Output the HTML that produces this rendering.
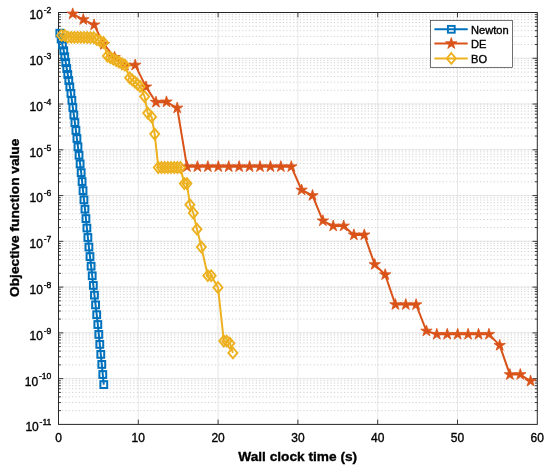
<!DOCTYPE html>
<html><head><meta charset="utf-8"><title>Objective function value vs wall clock time</title>
<style>html,body{margin:0;padding:0;background:#fff;}svg{display:block;}</style></head>
<body>
<svg width="550" height="471" viewBox="0 0 550 471">
<rect width="550" height="471" fill="#fff"/>
<g stroke="#bdbdbd" stroke-width="0.7" stroke-dasharray="1.2 2.2"><line x1="58.5" y1="410.62" x2="537.3" y2="410.62"/><line x1="58.5" y1="402.56" x2="537.3" y2="402.56"/><line x1="58.5" y1="396.85" x2="537.3" y2="396.85"/><line x1="58.5" y1="392.41" x2="537.3" y2="392.41"/><line x1="58.5" y1="388.79" x2="537.3" y2="388.79"/><line x1="58.5" y1="385.72" x2="537.3" y2="385.72"/><line x1="58.5" y1="383.07" x2="537.3" y2="383.07"/><line x1="58.5" y1="380.73" x2="537.3" y2="380.73"/><line x1="58.5" y1="378.63" x2="537.3" y2="378.63"/><line x1="58.5" y1="364.86" x2="537.3" y2="364.86"/><line x1="58.5" y1="356.80" x2="537.3" y2="356.80"/><line x1="58.5" y1="351.08" x2="537.3" y2="351.08"/><line x1="58.5" y1="346.64" x2="537.3" y2="346.64"/><line x1="58.5" y1="343.02" x2="537.3" y2="343.02"/><line x1="58.5" y1="339.96" x2="537.3" y2="339.96"/><line x1="58.5" y1="337.30" x2="537.3" y2="337.30"/><line x1="58.5" y1="334.96" x2="537.3" y2="334.96"/><line x1="58.5" y1="332.87" x2="537.3" y2="332.87"/><line x1="58.5" y1="319.09" x2="537.3" y2="319.09"/><line x1="58.5" y1="311.03" x2="537.3" y2="311.03"/><line x1="58.5" y1="305.31" x2="537.3" y2="305.31"/><line x1="58.5" y1="300.88" x2="537.3" y2="300.88"/><line x1="58.5" y1="297.25" x2="537.3" y2="297.25"/><line x1="58.5" y1="294.19" x2="537.3" y2="294.19"/><line x1="58.5" y1="291.54" x2="537.3" y2="291.54"/><line x1="58.5" y1="289.19" x2="537.3" y2="289.19"/><line x1="58.5" y1="287.10" x2="537.3" y2="287.10"/><line x1="58.5" y1="273.32" x2="537.3" y2="273.32"/><line x1="58.5" y1="265.26" x2="537.3" y2="265.26"/><line x1="58.5" y1="259.55" x2="537.3" y2="259.55"/><line x1="58.5" y1="255.11" x2="537.3" y2="255.11"/><line x1="58.5" y1="251.49" x2="537.3" y2="251.49"/><line x1="58.5" y1="248.42" x2="537.3" y2="248.42"/><line x1="58.5" y1="245.77" x2="537.3" y2="245.77"/><line x1="58.5" y1="243.43" x2="537.3" y2="243.43"/><line x1="58.5" y1="241.33" x2="537.3" y2="241.33"/><line x1="58.5" y1="227.56" x2="537.3" y2="227.56"/><line x1="58.5" y1="219.50" x2="537.3" y2="219.50"/><line x1="58.5" y1="213.78" x2="537.3" y2="213.78"/><line x1="58.5" y1="209.34" x2="537.3" y2="209.34"/><line x1="58.5" y1="205.72" x2="537.3" y2="205.72"/><line x1="58.5" y1="202.66" x2="537.3" y2="202.66"/><line x1="58.5" y1="200.00" x2="537.3" y2="200.00"/><line x1="58.5" y1="197.66" x2="537.3" y2="197.66"/><line x1="58.5" y1="195.57" x2="537.3" y2="195.57"/><line x1="58.5" y1="181.79" x2="537.3" y2="181.79"/><line x1="58.5" y1="173.73" x2="537.3" y2="173.73"/><line x1="58.5" y1="168.01" x2="537.3" y2="168.01"/><line x1="58.5" y1="163.58" x2="537.3" y2="163.58"/><line x1="58.5" y1="159.95" x2="537.3" y2="159.95"/><line x1="58.5" y1="156.89" x2="537.3" y2="156.89"/><line x1="58.5" y1="154.24" x2="537.3" y2="154.24"/><line x1="58.5" y1="151.89" x2="537.3" y2="151.89"/><line x1="58.5" y1="149.80" x2="537.3" y2="149.80"/><line x1="58.5" y1="136.02" x2="537.3" y2="136.02"/><line x1="58.5" y1="127.96" x2="537.3" y2="127.96"/><line x1="58.5" y1="122.25" x2="537.3" y2="122.25"/><line x1="58.5" y1="117.81" x2="537.3" y2="117.81"/><line x1="58.5" y1="114.19" x2="537.3" y2="114.19"/><line x1="58.5" y1="111.12" x2="537.3" y2="111.12"/><line x1="58.5" y1="108.47" x2="537.3" y2="108.47"/><line x1="58.5" y1="106.13" x2="537.3" y2="106.13"/><line x1="58.5" y1="104.03" x2="537.3" y2="104.03"/><line x1="58.5" y1="90.26" x2="537.3" y2="90.26"/><line x1="58.5" y1="82.20" x2="537.3" y2="82.20"/><line x1="58.5" y1="76.48" x2="537.3" y2="76.48"/><line x1="58.5" y1="72.04" x2="537.3" y2="72.04"/><line x1="58.5" y1="68.42" x2="537.3" y2="68.42"/><line x1="58.5" y1="65.36" x2="537.3" y2="65.36"/><line x1="58.5" y1="62.70" x2="537.3" y2="62.70"/><line x1="58.5" y1="60.36" x2="537.3" y2="60.36"/><line x1="58.5" y1="58.27" x2="537.3" y2="58.27"/><line x1="58.5" y1="44.49" x2="537.3" y2="44.49"/><line x1="58.5" y1="36.43" x2="537.3" y2="36.43"/><line x1="58.5" y1="30.71" x2="537.3" y2="30.71"/><line x1="58.5" y1="26.28" x2="537.3" y2="26.28"/><line x1="58.5" y1="22.65" x2="537.3" y2="22.65"/><line x1="58.5" y1="19.59" x2="537.3" y2="19.59"/><line x1="58.5" y1="16.94" x2="537.3" y2="16.94"/><line x1="58.5" y1="14.59" x2="537.3" y2="14.59"/></g>
<g stroke="#dedede" stroke-width="0.7"><line x1="58.5" y1="378.63" x2="537.3" y2="378.63"/><line x1="58.5" y1="332.87" x2="537.3" y2="332.87"/><line x1="58.5" y1="287.10" x2="537.3" y2="287.10"/><line x1="58.5" y1="241.33" x2="537.3" y2="241.33"/><line x1="58.5" y1="195.57" x2="537.3" y2="195.57"/><line x1="58.5" y1="149.80" x2="537.3" y2="149.80"/><line x1="58.5" y1="104.03" x2="537.3" y2="104.03"/><line x1="58.5" y1="58.27" x2="537.3" y2="58.27"/><line x1="138.30" y1="12.5" x2="138.30" y2="424.4"/><line x1="218.10" y1="12.5" x2="218.10" y2="424.4"/><line x1="297.90" y1="12.5" x2="297.90" y2="424.4"/><line x1="377.70" y1="12.5" x2="377.70" y2="424.4"/><line x1="457.50" y1="12.5" x2="457.50" y2="424.4"/></g>
<rect x="58.5" y="12.5" width="478.80" height="411.90" fill="none" stroke="#262626" stroke-width="1"/>
<g stroke="#262626" stroke-width="0.9"><line x1="138.30" y1="424.4" x2="138.30" y2="419.59999999999997"/><line x1="138.30" y1="12.5" x2="138.30" y2="17.3"/><line x1="218.10" y1="424.4" x2="218.10" y2="419.59999999999997"/><line x1="218.10" y1="12.5" x2="218.10" y2="17.3"/><line x1="297.90" y1="424.4" x2="297.90" y2="419.59999999999997"/><line x1="297.90" y1="12.5" x2="297.90" y2="17.3"/><line x1="377.70" y1="424.4" x2="377.70" y2="419.59999999999997"/><line x1="377.70" y1="12.5" x2="377.70" y2="17.3"/><line x1="457.50" y1="424.4" x2="457.50" y2="419.59999999999997"/><line x1="457.50" y1="12.5" x2="457.50" y2="17.3"/><line x1="58.5" y1="378.63" x2="63.3" y2="378.63"/><line x1="537.3" y1="378.63" x2="532.5" y2="378.63"/><line x1="58.5" y1="332.87" x2="63.3" y2="332.87"/><line x1="537.3" y1="332.87" x2="532.5" y2="332.87"/><line x1="58.5" y1="287.10" x2="63.3" y2="287.10"/><line x1="537.3" y1="287.10" x2="532.5" y2="287.10"/><line x1="58.5" y1="241.33" x2="63.3" y2="241.33"/><line x1="537.3" y1="241.33" x2="532.5" y2="241.33"/><line x1="58.5" y1="195.57" x2="63.3" y2="195.57"/><line x1="537.3" y1="195.57" x2="532.5" y2="195.57"/><line x1="58.5" y1="149.80" x2="63.3" y2="149.80"/><line x1="537.3" y1="149.80" x2="532.5" y2="149.80"/><line x1="58.5" y1="104.03" x2="63.3" y2="104.03"/><line x1="537.3" y1="104.03" x2="532.5" y2="104.03"/><line x1="58.5" y1="58.27" x2="63.3" y2="58.27"/><line x1="537.3" y1="58.27" x2="532.5" y2="58.27"/><line x1="58.5" y1="410.62" x2="60.9" y2="410.62"/><line x1="537.3" y1="410.62" x2="534.9" y2="410.62"/><line x1="58.5" y1="402.56" x2="60.9" y2="402.56"/><line x1="537.3" y1="402.56" x2="534.9" y2="402.56"/><line x1="58.5" y1="396.85" x2="60.9" y2="396.85"/><line x1="537.3" y1="396.85" x2="534.9" y2="396.85"/><line x1="58.5" y1="392.41" x2="60.9" y2="392.41"/><line x1="537.3" y1="392.41" x2="534.9" y2="392.41"/><line x1="58.5" y1="388.79" x2="60.9" y2="388.79"/><line x1="537.3" y1="388.79" x2="534.9" y2="388.79"/><line x1="58.5" y1="385.72" x2="60.9" y2="385.72"/><line x1="537.3" y1="385.72" x2="534.9" y2="385.72"/><line x1="58.5" y1="383.07" x2="60.9" y2="383.07"/><line x1="537.3" y1="383.07" x2="534.9" y2="383.07"/><line x1="58.5" y1="380.73" x2="60.9" y2="380.73"/><line x1="537.3" y1="380.73" x2="534.9" y2="380.73"/><line x1="58.5" y1="364.86" x2="60.9" y2="364.86"/><line x1="537.3" y1="364.86" x2="534.9" y2="364.86"/><line x1="58.5" y1="356.80" x2="60.9" y2="356.80"/><line x1="537.3" y1="356.80" x2="534.9" y2="356.80"/><line x1="58.5" y1="351.08" x2="60.9" y2="351.08"/><line x1="537.3" y1="351.08" x2="534.9" y2="351.08"/><line x1="58.5" y1="346.64" x2="60.9" y2="346.64"/><line x1="537.3" y1="346.64" x2="534.9" y2="346.64"/><line x1="58.5" y1="343.02" x2="60.9" y2="343.02"/><line x1="537.3" y1="343.02" x2="534.9" y2="343.02"/><line x1="58.5" y1="339.96" x2="60.9" y2="339.96"/><line x1="537.3" y1="339.96" x2="534.9" y2="339.96"/><line x1="58.5" y1="337.30" x2="60.9" y2="337.30"/><line x1="537.3" y1="337.30" x2="534.9" y2="337.30"/><line x1="58.5" y1="334.96" x2="60.9" y2="334.96"/><line x1="537.3" y1="334.96" x2="534.9" y2="334.96"/><line x1="58.5" y1="319.09" x2="60.9" y2="319.09"/><line x1="537.3" y1="319.09" x2="534.9" y2="319.09"/><line x1="58.5" y1="311.03" x2="60.9" y2="311.03"/><line x1="537.3" y1="311.03" x2="534.9" y2="311.03"/><line x1="58.5" y1="305.31" x2="60.9" y2="305.31"/><line x1="537.3" y1="305.31" x2="534.9" y2="305.31"/><line x1="58.5" y1="300.88" x2="60.9" y2="300.88"/><line x1="537.3" y1="300.88" x2="534.9" y2="300.88"/><line x1="58.5" y1="297.25" x2="60.9" y2="297.25"/><line x1="537.3" y1="297.25" x2="534.9" y2="297.25"/><line x1="58.5" y1="294.19" x2="60.9" y2="294.19"/><line x1="537.3" y1="294.19" x2="534.9" y2="294.19"/><line x1="58.5" y1="291.54" x2="60.9" y2="291.54"/><line x1="537.3" y1="291.54" x2="534.9" y2="291.54"/><line x1="58.5" y1="289.19" x2="60.9" y2="289.19"/><line x1="537.3" y1="289.19" x2="534.9" y2="289.19"/><line x1="58.5" y1="273.32" x2="60.9" y2="273.32"/><line x1="537.3" y1="273.32" x2="534.9" y2="273.32"/><line x1="58.5" y1="265.26" x2="60.9" y2="265.26"/><line x1="537.3" y1="265.26" x2="534.9" y2="265.26"/><line x1="58.5" y1="259.55" x2="60.9" y2="259.55"/><line x1="537.3" y1="259.55" x2="534.9" y2="259.55"/><line x1="58.5" y1="255.11" x2="60.9" y2="255.11"/><line x1="537.3" y1="255.11" x2="534.9" y2="255.11"/><line x1="58.5" y1="251.49" x2="60.9" y2="251.49"/><line x1="537.3" y1="251.49" x2="534.9" y2="251.49"/><line x1="58.5" y1="248.42" x2="60.9" y2="248.42"/><line x1="537.3" y1="248.42" x2="534.9" y2="248.42"/><line x1="58.5" y1="245.77" x2="60.9" y2="245.77"/><line x1="537.3" y1="245.77" x2="534.9" y2="245.77"/><line x1="58.5" y1="243.43" x2="60.9" y2="243.43"/><line x1="537.3" y1="243.43" x2="534.9" y2="243.43"/><line x1="58.5" y1="227.56" x2="60.9" y2="227.56"/><line x1="537.3" y1="227.56" x2="534.9" y2="227.56"/><line x1="58.5" y1="219.50" x2="60.9" y2="219.50"/><line x1="537.3" y1="219.50" x2="534.9" y2="219.50"/><line x1="58.5" y1="213.78" x2="60.9" y2="213.78"/><line x1="537.3" y1="213.78" x2="534.9" y2="213.78"/><line x1="58.5" y1="209.34" x2="60.9" y2="209.34"/><line x1="537.3" y1="209.34" x2="534.9" y2="209.34"/><line x1="58.5" y1="205.72" x2="60.9" y2="205.72"/><line x1="537.3" y1="205.72" x2="534.9" y2="205.72"/><line x1="58.5" y1="202.66" x2="60.9" y2="202.66"/><line x1="537.3" y1="202.66" x2="534.9" y2="202.66"/><line x1="58.5" y1="200.00" x2="60.9" y2="200.00"/><line x1="537.3" y1="200.00" x2="534.9" y2="200.00"/><line x1="58.5" y1="197.66" x2="60.9" y2="197.66"/><line x1="537.3" y1="197.66" x2="534.9" y2="197.66"/><line x1="58.5" y1="181.79" x2="60.9" y2="181.79"/><line x1="537.3" y1="181.79" x2="534.9" y2="181.79"/><line x1="58.5" y1="173.73" x2="60.9" y2="173.73"/><line x1="537.3" y1="173.73" x2="534.9" y2="173.73"/><line x1="58.5" y1="168.01" x2="60.9" y2="168.01"/><line x1="537.3" y1="168.01" x2="534.9" y2="168.01"/><line x1="58.5" y1="163.58" x2="60.9" y2="163.58"/><line x1="537.3" y1="163.58" x2="534.9" y2="163.58"/><line x1="58.5" y1="159.95" x2="60.9" y2="159.95"/><line x1="537.3" y1="159.95" x2="534.9" y2="159.95"/><line x1="58.5" y1="156.89" x2="60.9" y2="156.89"/><line x1="537.3" y1="156.89" x2="534.9" y2="156.89"/><line x1="58.5" y1="154.24" x2="60.9" y2="154.24"/><line x1="537.3" y1="154.24" x2="534.9" y2="154.24"/><line x1="58.5" y1="151.89" x2="60.9" y2="151.89"/><line x1="537.3" y1="151.89" x2="534.9" y2="151.89"/><line x1="58.5" y1="136.02" x2="60.9" y2="136.02"/><line x1="537.3" y1="136.02" x2="534.9" y2="136.02"/><line x1="58.5" y1="127.96" x2="60.9" y2="127.96"/><line x1="537.3" y1="127.96" x2="534.9" y2="127.96"/><line x1="58.5" y1="122.25" x2="60.9" y2="122.25"/><line x1="537.3" y1="122.25" x2="534.9" y2="122.25"/><line x1="58.5" y1="117.81" x2="60.9" y2="117.81"/><line x1="537.3" y1="117.81" x2="534.9" y2="117.81"/><line x1="58.5" y1="114.19" x2="60.9" y2="114.19"/><line x1="537.3" y1="114.19" x2="534.9" y2="114.19"/><line x1="58.5" y1="111.12" x2="60.9" y2="111.12"/><line x1="537.3" y1="111.12" x2="534.9" y2="111.12"/><line x1="58.5" y1="108.47" x2="60.9" y2="108.47"/><line x1="537.3" y1="108.47" x2="534.9" y2="108.47"/><line x1="58.5" y1="106.13" x2="60.9" y2="106.13"/><line x1="537.3" y1="106.13" x2="534.9" y2="106.13"/><line x1="58.5" y1="90.26" x2="60.9" y2="90.26"/><line x1="537.3" y1="90.26" x2="534.9" y2="90.26"/><line x1="58.5" y1="82.20" x2="60.9" y2="82.20"/><line x1="537.3" y1="82.20" x2="534.9" y2="82.20"/><line x1="58.5" y1="76.48" x2="60.9" y2="76.48"/><line x1="537.3" y1="76.48" x2="534.9" y2="76.48"/><line x1="58.5" y1="72.04" x2="60.9" y2="72.04"/><line x1="537.3" y1="72.04" x2="534.9" y2="72.04"/><line x1="58.5" y1="68.42" x2="60.9" y2="68.42"/><line x1="537.3" y1="68.42" x2="534.9" y2="68.42"/><line x1="58.5" y1="65.36" x2="60.9" y2="65.36"/><line x1="537.3" y1="65.36" x2="534.9" y2="65.36"/><line x1="58.5" y1="62.70" x2="60.9" y2="62.70"/><line x1="537.3" y1="62.70" x2="534.9" y2="62.70"/><line x1="58.5" y1="60.36" x2="60.9" y2="60.36"/><line x1="537.3" y1="60.36" x2="534.9" y2="60.36"/><line x1="58.5" y1="44.49" x2="60.9" y2="44.49"/><line x1="537.3" y1="44.49" x2="534.9" y2="44.49"/><line x1="58.5" y1="36.43" x2="60.9" y2="36.43"/><line x1="537.3" y1="36.43" x2="534.9" y2="36.43"/><line x1="58.5" y1="30.71" x2="60.9" y2="30.71"/><line x1="537.3" y1="30.71" x2="534.9" y2="30.71"/><line x1="58.5" y1="26.28" x2="60.9" y2="26.28"/><line x1="537.3" y1="26.28" x2="534.9" y2="26.28"/><line x1="58.5" y1="22.65" x2="60.9" y2="22.65"/><line x1="537.3" y1="22.65" x2="534.9" y2="22.65"/><line x1="58.5" y1="19.59" x2="60.9" y2="19.59"/><line x1="537.3" y1="19.59" x2="534.9" y2="19.59"/><line x1="58.5" y1="16.94" x2="60.9" y2="16.94"/><line x1="537.3" y1="16.94" x2="534.9" y2="16.94"/><line x1="58.5" y1="14.59" x2="60.9" y2="14.59"/><line x1="537.3" y1="14.59" x2="534.9" y2="14.59"/></g>
<polyline points="59.80,33.20 61.12,39.05 62.44,44.92 63.75,50.80 64.75,56.69 65.76,62.61 66.76,68.53 67.77,74.47 68.79,80.48 69.83,86.79 70.91,93.41 71.88,100.37 72.86,107.57 73.86,114.98 74.89,122.60 75.91,130.44 76.92,138.51 77.97,146.81 79.04,155.29 80.12,163.90 81.18,172.65 82.10,181.56 83.03,190.61 83.98,199.81 84.95,209.16 85.92,218.57 86.90,228.02 87.88,237.50 88.89,247.02 89.99,256.57 91.10,266.16 92.21,275.78 93.33,285.44 94.45,295.14 95.57,304.89 96.71,314.69 97.82,324.54 98.81,334.44 99.80,344.38 100.79,354.38 101.79,364.42 102.80,374.51 103.80,384.60" fill="none" stroke="#0072BD" stroke-width="2.0" stroke-linejoin="round"/>
<g fill="none" stroke="#0072BD" stroke-width="2.0"><rect x="56.40" y="29.80" width="6.8" height="6.8"/><rect x="57.72" y="35.65" width="6.8" height="6.8"/><rect x="59.04" y="41.52" width="6.8" height="6.8"/><rect x="60.35" y="47.40" width="6.8" height="6.8"/><rect x="61.35" y="53.29" width="6.8" height="6.8"/><rect x="62.36" y="59.21" width="6.8" height="6.8"/><rect x="63.36" y="65.13" width="6.8" height="6.8"/><rect x="64.37" y="71.07" width="6.8" height="6.8"/><rect x="65.39" y="77.08" width="6.8" height="6.8"/><rect x="66.43" y="83.39" width="6.8" height="6.8"/><rect x="67.51" y="90.01" width="6.8" height="6.8"/><rect x="68.48" y="96.97" width="6.8" height="6.8"/><rect x="69.46" y="104.17" width="6.8" height="6.8"/><rect x="70.46" y="111.58" width="6.8" height="6.8"/><rect x="71.49" y="119.20" width="6.8" height="6.8"/><rect x="72.51" y="127.04" width="6.8" height="6.8"/><rect x="73.52" y="135.11" width="6.8" height="6.8"/><rect x="74.57" y="143.41" width="6.8" height="6.8"/><rect x="75.64" y="151.89" width="6.8" height="6.8"/><rect x="76.72" y="160.50" width="6.8" height="6.8"/><rect x="77.78" y="169.25" width="6.8" height="6.8"/><rect x="78.70" y="178.16" width="6.8" height="6.8"/><rect x="79.63" y="187.21" width="6.8" height="6.8"/><rect x="80.58" y="196.41" width="6.8" height="6.8"/><rect x="81.55" y="205.76" width="6.8" height="6.8"/><rect x="82.52" y="215.17" width="6.8" height="6.8"/><rect x="83.50" y="224.62" width="6.8" height="6.8"/><rect x="84.48" y="234.10" width="6.8" height="6.8"/><rect x="85.49" y="243.62" width="6.8" height="6.8"/><rect x="86.59" y="253.17" width="6.8" height="6.8"/><rect x="87.70" y="262.76" width="6.8" height="6.8"/><rect x="88.81" y="272.38" width="6.8" height="6.8"/><rect x="89.93" y="282.04" width="6.8" height="6.8"/><rect x="91.05" y="291.74" width="6.8" height="6.8"/><rect x="92.17" y="301.49" width="6.8" height="6.8"/><rect x="93.31" y="311.29" width="6.8" height="6.8"/><rect x="94.42" y="321.14" width="6.8" height="6.8"/><rect x="95.41" y="331.04" width="6.8" height="6.8"/><rect x="96.40" y="340.98" width="6.8" height="6.8"/><rect x="97.39" y="350.98" width="6.8" height="6.8"/><rect x="98.39" y="361.02" width="6.8" height="6.8"/><rect x="99.40" y="371.11" width="6.8" height="6.8"/><rect x="100.40" y="381.20" width="6.8" height="6.8"/></g>
<polyline points="72.70,13.90 83.30,19.60 94.10,24.90 103.90,44.40 114.60,57.40 124.90,65.20 135.20,65.10 146.00,86.90 156.00,102.20 166.50,101.90 177.20,108.00 187.00,166.70 197.43,166.70 207.86,166.70 218.29,166.70 228.72,166.70 239.15,166.70 249.58,166.70 260.01,166.70 270.44,166.70 280.87,166.70 291.30,166.70 301.60,190.00 312.50,195.50 322.90,220.80 333.20,226.00 343.70,226.00 353.90,234.90 364.30,234.90 374.70,264.50 385.20,274.70 395.40,304.60 405.80,304.60 416.10,304.70 426.40,331.00 436.80,334.30 447.23,334.30 457.66,334.30 468.09,334.30 478.52,334.30 488.95,334.30 499.70,345.40 509.90,374.60 520.30,374.50 530.60,381.10" fill="none" stroke="#D95319" stroke-width="2.0" stroke-linejoin="round"/>
<g fill="#D95319" stroke="#D95319" stroke-width="0.8" stroke-linejoin="miter"><polygon points="72.70,7.90 74.05,12.05 78.41,12.05 74.88,14.61 76.23,18.75 72.70,16.19 69.17,18.75 70.52,14.61 66.99,12.05 71.35,12.05"/><polygon points="83.30,13.60 84.65,17.75 89.01,17.75 85.48,20.31 86.83,24.45 83.30,21.89 79.77,24.45 81.12,20.31 77.59,17.75 81.95,17.75"/><polygon points="94.10,18.90 95.45,23.05 99.81,23.05 96.28,25.61 97.63,29.75 94.10,27.19 90.57,29.75 91.92,25.61 88.39,23.05 92.75,23.05"/><polygon points="103.90,38.40 105.25,42.55 109.61,42.55 106.08,45.11 107.43,49.25 103.90,46.69 100.37,49.25 101.72,45.11 98.19,42.55 102.55,42.55"/><polygon points="114.60,51.40 115.95,55.55 120.31,55.55 116.78,58.11 118.13,62.25 114.60,59.69 111.07,62.25 112.42,58.11 108.89,55.55 113.25,55.55"/><polygon points="124.90,59.20 126.25,63.35 130.61,63.35 127.08,65.91 128.43,70.05 124.90,67.49 121.37,70.05 122.72,65.91 119.19,63.35 123.55,63.35"/><polygon points="135.20,59.10 136.55,63.25 140.91,63.25 137.38,65.81 138.73,69.95 135.20,67.39 131.67,69.95 133.02,65.81 129.49,63.25 133.85,63.25"/><polygon points="146.00,80.90 147.35,85.05 151.71,85.05 148.18,87.61 149.53,91.75 146.00,89.19 142.47,91.75 143.82,87.61 140.29,85.05 144.65,85.05"/><polygon points="156.00,96.20 157.35,100.35 161.71,100.35 158.18,102.91 159.53,107.05 156.00,104.49 152.47,107.05 153.82,102.91 150.29,100.35 154.65,100.35"/><polygon points="166.50,95.90 167.85,100.05 172.21,100.05 168.68,102.61 170.03,106.75 166.50,104.19 162.97,106.75 164.32,102.61 160.79,100.05 165.15,100.05"/><polygon points="177.20,102.00 178.55,106.15 182.91,106.15 179.38,108.71 180.73,112.85 177.20,110.29 173.67,112.85 175.02,108.71 171.49,106.15 175.85,106.15"/><polygon points="187.00,160.70 188.35,164.85 192.71,164.85 189.18,167.41 190.53,171.55 187.00,168.99 183.47,171.55 184.82,167.41 181.29,164.85 185.65,164.85"/><polygon points="197.43,160.70 198.78,164.85 203.14,164.85 199.61,167.41 200.96,171.55 197.43,168.99 193.90,171.55 195.25,167.41 191.72,164.85 196.08,164.85"/><polygon points="207.86,160.70 209.21,164.85 213.57,164.85 210.04,167.41 211.39,171.55 207.86,168.99 204.33,171.55 205.68,167.41 202.15,164.85 206.51,164.85"/><polygon points="218.29,160.70 219.64,164.85 224.00,164.85 220.47,167.41 221.82,171.55 218.29,168.99 214.76,171.55 216.11,167.41 212.58,164.85 216.94,164.85"/><polygon points="228.72,160.70 230.07,164.85 234.43,164.85 230.90,167.41 232.25,171.55 228.72,168.99 225.19,171.55 226.54,167.41 223.01,164.85 227.37,164.85"/><polygon points="239.15,160.70 240.50,164.85 244.86,164.85 241.33,167.41 242.68,171.55 239.15,168.99 235.62,171.55 236.97,167.41 233.44,164.85 237.80,164.85"/><polygon points="249.58,160.70 250.93,164.85 255.29,164.85 251.76,167.41 253.11,171.55 249.58,168.99 246.05,171.55 247.40,167.41 243.87,164.85 248.23,164.85"/><polygon points="260.01,160.70 261.36,164.85 265.72,164.85 262.19,167.41 263.54,171.55 260.01,168.99 256.48,171.55 257.83,167.41 254.30,164.85 258.66,164.85"/><polygon points="270.44,160.70 271.79,164.85 276.15,164.85 272.62,167.41 273.97,171.55 270.44,168.99 266.91,171.55 268.26,167.41 264.73,164.85 269.09,164.85"/><polygon points="280.87,160.70 282.22,164.85 286.58,164.85 283.05,167.41 284.40,171.55 280.87,168.99 277.34,171.55 278.69,167.41 275.16,164.85 279.52,164.85"/><polygon points="291.30,160.70 292.65,164.85 297.01,164.85 293.48,167.41 294.83,171.55 291.30,168.99 287.77,171.55 289.12,167.41 285.59,164.85 289.95,164.85"/><polygon points="301.60,184.00 302.95,188.15 307.31,188.15 303.78,190.71 305.13,194.85 301.60,192.29 298.07,194.85 299.42,190.71 295.89,188.15 300.25,188.15"/><polygon points="312.50,189.50 313.85,193.65 318.21,193.65 314.68,196.21 316.03,200.35 312.50,197.79 308.97,200.35 310.32,196.21 306.79,193.65 311.15,193.65"/><polygon points="322.90,214.80 324.25,218.95 328.61,218.95 325.08,221.51 326.43,225.65 322.90,223.09 319.37,225.65 320.72,221.51 317.19,218.95 321.55,218.95"/><polygon points="333.20,220.00 334.55,224.15 338.91,224.15 335.38,226.71 336.73,230.85 333.20,228.29 329.67,230.85 331.02,226.71 327.49,224.15 331.85,224.15"/><polygon points="343.70,220.00 345.05,224.15 349.41,224.15 345.88,226.71 347.23,230.85 343.70,228.29 340.17,230.85 341.52,226.71 337.99,224.15 342.35,224.15"/><polygon points="353.90,228.90 355.25,233.05 359.61,233.05 356.08,235.61 357.43,239.75 353.90,237.19 350.37,239.75 351.72,235.61 348.19,233.05 352.55,233.05"/><polygon points="364.30,228.90 365.65,233.05 370.01,233.05 366.48,235.61 367.83,239.75 364.30,237.19 360.77,239.75 362.12,235.61 358.59,233.05 362.95,233.05"/><polygon points="374.70,258.50 376.05,262.65 380.41,262.65 376.88,265.21 378.23,269.35 374.70,266.79 371.17,269.35 372.52,265.21 368.99,262.65 373.35,262.65"/><polygon points="385.20,268.70 386.55,272.85 390.91,272.85 387.38,275.41 388.73,279.55 385.20,276.99 381.67,279.55 383.02,275.41 379.49,272.85 383.85,272.85"/><polygon points="395.40,298.60 396.75,302.75 401.11,302.75 397.58,305.31 398.93,309.45 395.40,306.89 391.87,309.45 393.22,305.31 389.69,302.75 394.05,302.75"/><polygon points="405.80,298.60 407.15,302.75 411.51,302.75 407.98,305.31 409.33,309.45 405.80,306.89 402.27,309.45 403.62,305.31 400.09,302.75 404.45,302.75"/><polygon points="416.10,298.70 417.45,302.85 421.81,302.85 418.28,305.41 419.63,309.55 416.10,306.99 412.57,309.55 413.92,305.41 410.39,302.85 414.75,302.85"/><polygon points="426.40,325.00 427.75,329.15 432.11,329.15 428.58,331.71 429.93,335.85 426.40,333.29 422.87,335.85 424.22,331.71 420.69,329.15 425.05,329.15"/><polygon points="436.80,328.30 438.15,332.45 442.51,332.45 438.98,335.01 440.33,339.15 436.80,336.59 433.27,339.15 434.62,335.01 431.09,332.45 435.45,332.45"/><polygon points="447.23,328.30 448.58,332.45 452.94,332.45 449.41,335.01 450.76,339.15 447.23,336.59 443.70,339.15 445.05,335.01 441.52,332.45 445.88,332.45"/><polygon points="457.66,328.30 459.01,332.45 463.37,332.45 459.84,335.01 461.19,339.15 457.66,336.59 454.13,339.15 455.48,335.01 451.95,332.45 456.31,332.45"/><polygon points="468.09,328.30 469.44,332.45 473.80,332.45 470.27,335.01 471.62,339.15 468.09,336.59 464.56,339.15 465.91,335.01 462.38,332.45 466.74,332.45"/><polygon points="478.52,328.30 479.87,332.45 484.23,332.45 480.70,335.01 482.05,339.15 478.52,336.59 474.99,339.15 476.34,335.01 472.81,332.45 477.17,332.45"/><polygon points="488.95,328.30 490.30,332.45 494.66,332.45 491.13,335.01 492.48,339.15 488.95,336.59 485.42,339.15 486.77,335.01 483.24,332.45 487.60,332.45"/><polygon points="499.70,339.40 501.05,343.55 505.41,343.55 501.88,346.11 503.23,350.25 499.70,347.69 496.17,350.25 497.52,346.11 493.99,343.55 498.35,343.55"/><polygon points="509.90,368.60 511.25,372.75 515.61,372.75 512.08,375.31 513.43,379.45 509.90,376.89 506.37,379.45 507.72,375.31 504.19,372.75 508.55,372.75"/><polygon points="520.30,368.50 521.65,372.65 526.01,372.65 522.48,375.21 523.83,379.35 520.30,376.79 516.77,379.35 518.12,375.21 514.59,372.65 518.95,372.65"/><polygon points="530.60,375.10 531.95,379.25 536.31,379.25 532.78,381.81 534.13,385.95 530.60,383.39 527.07,385.95 528.42,381.81 524.89,379.25 529.25,379.25"/></g>
<polyline points="61.50,35.40 64.73,35.50 67.96,37.20 71.19,37.30 74.42,37.30 77.65,37.30 80.88,37.40 84.11,37.40 87.34,37.50 90.57,37.60 93.80,37.70 96.80,39.50 100.00,41.00 103.50,42.50 107.40,56.00 110.33,57.53 113.26,59.06 116.19,60.59 119.12,62.12 122.05,63.65 124.98,65.18 129.60,77.80 132.25,79.95 134.90,82.10 137.55,84.25 140.20,86.40 144.60,96.60 147.70,113.10 151.60,116.90 154.70,134.10 158.30,167.50 161.47,167.50 164.64,167.50 167.81,167.50 170.98,167.50 174.15,167.50 177.32,167.50 180.49,167.50 184.30,183.60 186.90,183.60 189.90,204.70 193.30,213.10 197.00,229.20 201.40,247.10 207.80,275.70 211.20,275.70 218.00,287.50 223.80,341.00 226.80,341.20 229.90,343.20 232.90,352.90" fill="none" stroke="#EDB120" stroke-width="2.0" stroke-linejoin="round"/>
<g fill="none" stroke="#EDB120" stroke-width="1.9"><polygon points="61.50,30.00 66.00,35.40 61.50,40.80 57.00,35.40"/><polygon points="64.73,30.10 69.23,35.50 64.73,40.90 60.23,35.50"/><polygon points="67.96,31.80 72.46,37.20 67.96,42.60 63.46,37.20"/><polygon points="71.19,31.90 75.69,37.30 71.19,42.70 66.69,37.30"/><polygon points="74.42,31.90 78.92,37.30 74.42,42.70 69.92,37.30"/><polygon points="77.65,31.90 82.15,37.30 77.65,42.70 73.15,37.30"/><polygon points="80.88,32.00 85.38,37.40 80.88,42.80 76.38,37.40"/><polygon points="84.11,32.00 88.61,37.40 84.11,42.80 79.61,37.40"/><polygon points="87.34,32.10 91.84,37.50 87.34,42.90 82.84,37.50"/><polygon points="90.57,32.20 95.07,37.60 90.57,43.00 86.07,37.60"/><polygon points="93.80,32.30 98.30,37.70 93.80,43.10 89.30,37.70"/><polygon points="96.80,34.10 101.30,39.50 96.80,44.90 92.30,39.50"/><polygon points="100.00,35.60 104.50,41.00 100.00,46.40 95.50,41.00"/><polygon points="103.50,37.10 108.00,42.50 103.50,47.90 99.00,42.50"/><polygon points="107.40,50.60 111.90,56.00 107.40,61.40 102.90,56.00"/><polygon points="110.33,52.13 114.83,57.53 110.33,62.93 105.83,57.53"/><polygon points="113.26,53.66 117.76,59.06 113.26,64.46 108.76,59.06"/><polygon points="116.19,55.19 120.69,60.59 116.19,65.99 111.69,60.59"/><polygon points="119.12,56.72 123.62,62.12 119.12,67.52 114.62,62.12"/><polygon points="122.05,58.25 126.55,63.65 122.05,69.05 117.55,63.65"/><polygon points="124.98,59.78 129.48,65.18 124.98,70.58 120.48,65.18"/><polygon points="129.60,72.40 134.10,77.80 129.60,83.20 125.10,77.80"/><polygon points="132.25,74.55 136.75,79.95 132.25,85.35 127.75,79.95"/><polygon points="134.90,76.70 139.40,82.10 134.90,87.50 130.40,82.10"/><polygon points="137.55,78.85 142.05,84.25 137.55,89.65 133.05,84.25"/><polygon points="140.20,81.00 144.70,86.40 140.20,91.80 135.70,86.40"/><polygon points="144.60,91.20 149.10,96.60 144.60,102.00 140.10,96.60"/><polygon points="147.70,107.70 152.20,113.10 147.70,118.50 143.20,113.10"/><polygon points="151.60,111.50 156.10,116.90 151.60,122.30 147.10,116.90"/><polygon points="154.70,128.70 159.20,134.10 154.70,139.50 150.20,134.10"/><polygon points="158.30,162.10 162.80,167.50 158.30,172.90 153.80,167.50"/><polygon points="161.47,162.10 165.97,167.50 161.47,172.90 156.97,167.50"/><polygon points="164.64,162.10 169.14,167.50 164.64,172.90 160.14,167.50"/><polygon points="167.81,162.10 172.31,167.50 167.81,172.90 163.31,167.50"/><polygon points="170.98,162.10 175.48,167.50 170.98,172.90 166.48,167.50"/><polygon points="174.15,162.10 178.65,167.50 174.15,172.90 169.65,167.50"/><polygon points="177.32,162.10 181.82,167.50 177.32,172.90 172.82,167.50"/><polygon points="180.49,162.10 184.99,167.50 180.49,172.90 175.99,167.50"/><polygon points="184.30,178.20 188.80,183.60 184.30,189.00 179.80,183.60"/><polygon points="186.90,178.20 191.40,183.60 186.90,189.00 182.40,183.60"/><polygon points="189.90,199.30 194.40,204.70 189.90,210.10 185.40,204.70"/><polygon points="193.30,207.70 197.80,213.10 193.30,218.50 188.80,213.10"/><polygon points="197.00,223.80 201.50,229.20 197.00,234.60 192.50,229.20"/><polygon points="201.40,241.70 205.90,247.10 201.40,252.50 196.90,247.10"/><polygon points="207.80,270.30 212.30,275.70 207.80,281.10 203.30,275.70"/><polygon points="211.20,270.30 215.70,275.70 211.20,281.10 206.70,275.70"/><polygon points="218.00,282.10 222.50,287.50 218.00,292.90 213.50,287.50"/><polygon points="223.80,335.60 228.30,341.00 223.80,346.40 219.30,341.00"/><polygon points="226.80,335.80 231.30,341.20 226.80,346.60 222.30,341.20"/><polygon points="229.90,337.80 234.40,343.20 229.90,348.60 225.40,343.20"/><polygon points="232.90,347.50 237.40,352.90 232.90,358.30 228.40,352.90"/></g>
<g fill="#000" font-family="'Liberation Sans', Arial, sans-serif" stroke="#000" stroke-width="0.35"><text x="58.50" y="442" text-anchor="middle" font-size="12">0</text><text x="138.30" y="442" text-anchor="middle" font-size="12">10</text><text x="218.10" y="442" text-anchor="middle" font-size="12">20</text><text x="297.90" y="442" text-anchor="middle" font-size="12">30</text><text x="377.70" y="442" text-anchor="middle" font-size="12">40</text><text x="457.50" y="442" text-anchor="middle" font-size="12">50</text><text x="537.30" y="442" text-anchor="middle" font-size="12">60</text><text x="51.4" y="431.30" text-anchor="end" font-size="12">10<tspan dx="0.8" dy="-6.2" font-size="8.6">-11</tspan></text><text x="51.4" y="385.53" text-anchor="end" font-size="12">10<tspan dx="0.8" dy="-6.2" font-size="8.6">-10</tspan></text><text x="51.4" y="339.77" text-anchor="end" font-size="12">10<tspan dx="0.8" dy="-6.2" font-size="8.6">-9</tspan></text><text x="51.4" y="294.00" text-anchor="end" font-size="12">10<tspan dx="0.8" dy="-6.2" font-size="8.6">-8</tspan></text><text x="51.4" y="248.23" text-anchor="end" font-size="12">10<tspan dx="0.8" dy="-6.2" font-size="8.6">-7</tspan></text><text x="51.4" y="202.47" text-anchor="end" font-size="12">10<tspan dx="0.8" dy="-6.2" font-size="8.6">-6</tspan></text><text x="51.4" y="156.70" text-anchor="end" font-size="12">10<tspan dx="0.8" dy="-6.2" font-size="8.6">-5</tspan></text><text x="51.4" y="110.93" text-anchor="end" font-size="12">10<tspan dx="0.8" dy="-6.2" font-size="8.6">-4</tspan></text><text x="51.4" y="65.17" text-anchor="end" font-size="12">10<tspan dx="0.8" dy="-6.2" font-size="8.6">-3</tspan></text><text x="51.4" y="19.40" text-anchor="end" font-size="12">10<tspan dx="0.8" dy="-6.2" font-size="8.6">-2</tspan></text></g>
<text x="297.7" y="460.8" text-anchor="middle" font-size="13.7" font-weight="bold" fill="#000" font-family="'Liberation Sans', Arial, sans-serif" stroke="#000" stroke-width="0.35">Wall clock time (s)</text>
<text transform="translate(18.6 217.8) rotate(-90)" x="0" y="0" text-anchor="middle" font-size="13.7" font-weight="bold" fill="#000" font-family="'Liberation Sans', Arial, sans-serif" stroke="#000" stroke-width="0.35">Objective function value</text>
<rect x="430.4" y="20.3" width="82.10" height="47.00" fill="#fff" stroke="#262626" stroke-width="0.65"/>
<line x1="434.4" y1="29.3" x2="467.7" y2="29.3" stroke="#0072BD" stroke-width="2.0"/>
<rect x="447.90000000000003" y="25.900000000000002" width="6.8" height="6.8" fill="none" stroke="#0072BD" stroke-width="1.9"/>
<text x="471" y="33.7" font-size="11.1" fill="#000" font-family="'Liberation Sans', Arial, sans-serif" stroke="#000" stroke-width="0.35">Newton</text>
<line x1="434.4" y1="43.6" x2="467.7" y2="43.6" stroke="#D95319" stroke-width="2.0"/>
<polygon points="451.30,37.60 452.65,41.75 457.01,41.75 453.48,44.31 454.83,48.45 451.30,45.89 447.77,48.45 449.12,44.31 445.59,41.75 449.95,41.75" fill="#D95319" stroke="#D95319" stroke-width="0.8"/>
<text x="471" y="48.0" font-size="11.1" fill="#000" font-family="'Liberation Sans', Arial, sans-serif" stroke="#000" stroke-width="0.35">DE</text>
<line x1="434.4" y1="58.4" x2="467.7" y2="58.4" stroke="#EDB120" stroke-width="2.0"/>
<polygon points="451.3,53.0 455.8,58.4 451.3,63.8 446.8,58.4" fill="none" stroke="#EDB120" stroke-width="1.9"/>
<text x="471" y="62.8" font-size="11.1" fill="#000" font-family="'Liberation Sans', Arial, sans-serif" stroke="#000" stroke-width="0.35">BO</text>
</svg>
</body></html>
